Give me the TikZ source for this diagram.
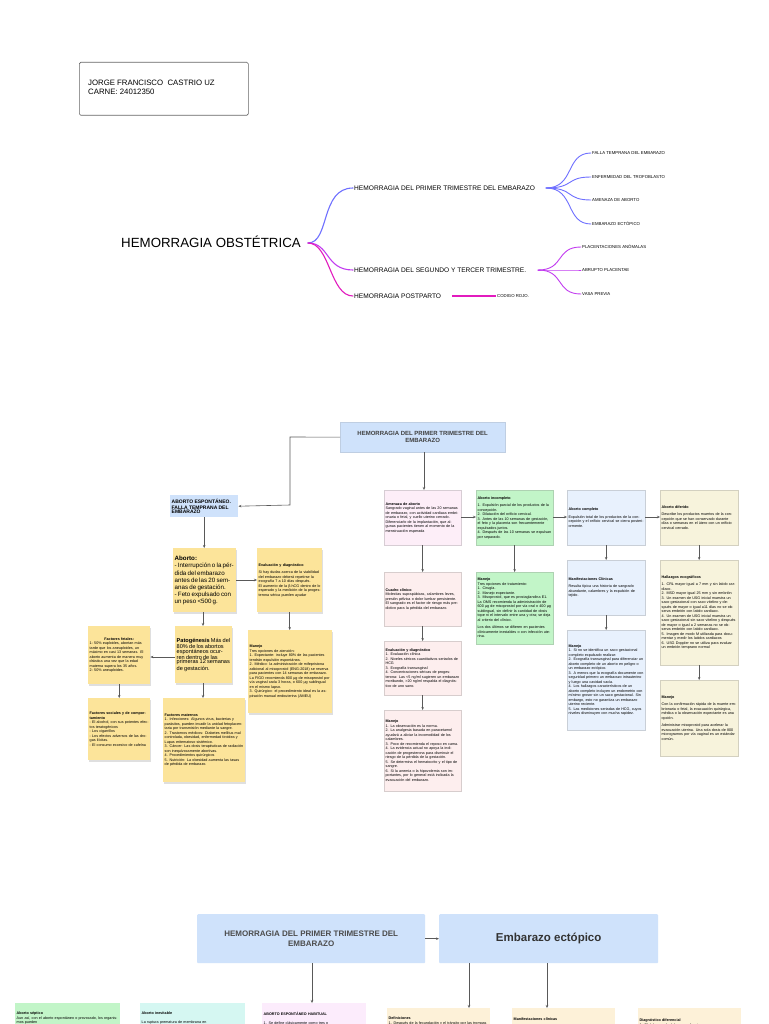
\documentclass[tikz,border=0pt]{standalone}
\usepackage{fontspec}
\setmainfont{Liberation Sans}
\usetikzlibrary{shadows,arrows.meta}
\definecolor{mmblue}{HTML}{6F70FF}
\definecolor{mmviol}{HTML}{C23CF0}
\definecolor{mmmag}{HTML}{E21BBE}
\definecolor{hblue}{HTML}{CFE2FB}
\definecolor{sticky}{HTML}{FCE49A}
\definecolor{cpink}{HTML}{FDEEF8}
\definecolor{crose}{HTML}{FDEEEE}
\definecolor{cgreen}{HTML}{C2F5C8}
\definecolor{clblue}{HTML}{E8F1FD}
\definecolor{ccream}{HTML}{F7F3DC}
\definecolor{ccyan}{HTML}{D5F7F2}
\definecolor{cpk2}{HTML}{FCECFC}
\definecolor{cor}{HTML}{FDF1D8}
\tikzset{
 bxs/.style={anchor=north west,align=left,inner sep=1.5pt,font=\fontsize{3.7}{4.5}\selectfont},
 stk/.style={bxs,fill=sticky,drop shadow={opacity=.25,shadow xshift=1pt,shadow yshift=-2pt}},
 card/.style={bxs,draw=#1!70!gray,line width=.3pt,fill=#1},
 arr/.style={-{Stealth[length=3pt,width=2.5pt]},draw=gray!70!black,line width=.6pt},
 mm/.style={line width=1.1pt,line cap=round},
 lbl/.style={font=\fontsize{4.3}{5}\selectfont,anchor=west,inner sep=1pt},
 mlbl/.style={font=\fontsize{6.6}{7.5}\selectfont,anchor=west,inner sep=1pt},
}
\newcommand\bx[7]{\node[#6,minimum width=#4pt,minimum height=#5pt,text width=#4pt-3pt] (#1) at (#2,#3) {#7};}
\begin{document}
\begin{tikzpicture}[x=1pt,y=-1pt]
\useasboundingbox (0,0) rectangle (768,1024);
\fill[white] (0,0) rectangle (768,1024);
% name box
\node[draw=gray!80!black,rounded corners=1.5pt,line width=.6pt,minimum width=169pt,minimum height=53pt,anchor=north west,inner sep=0] (name) at (79,62) {};
\node[anchor=west,align=left,font=\fontsize{7.8}{8.8}\selectfont,inner sep=0] (namet) at (88,87) {JORGE FRANCISCO\ \ CASTRIO UZ\\CARNE: 24012350};
% mind map
\node[anchor=west,inner sep=0,font=\fontsize{13.3}{15}\selectfont] (root) at (121,242) {HEMORRAGIA OBSTÉTRICA};
\coordinate (o) at (308,243);
\node[mlbl] (p1) at (353,188) {HEMORRAGIA DEL PRIMER TRIMESTRE DEL EMBARAZO};
\node[mlbl] (p2) at (353,270) {HEMORRAGIA DEL SEGUNDO Y TERCER TRIMESTRE.};
\node[mlbl] (p3) at (353,296) {HEMORRAGIA POSTPARTO};
\draw[mm,mmblue] (o) .. controls (330,243) and (320,188) .. (p1.west);
\draw[mm,mmviol] (o) .. controls (330,243) and (325,270) .. (p2.west);
\draw[mm,mmmag] (o) .. controls (330,243) and (330,296) .. (p3.west);
\coordinate (e1) at (546,188);
\coordinate (e2) at (538,270);
\foreach \y/\t [count=\i] in {153/FALLA TEMPRANA DEL EMBARAZO,177/ENFERMEDAD DEL TROFOBLASTO,200/AMENAZA DE ABORTO,224/EMBARAZO ECTÓPICO}{
 \node[lbl] (q\i) at (591,\y) {\t};
 \draw[mm,mmblue,line width=.9pt] (e1) .. controls (575,188) and (565,\y) .. (q\i.west);}
\foreach \y/\t [count=\i] in {247/PLACENTACIONES ANÓMALAS,270/ABRUPTO PLACENTAE,294/VASA PREVIA}{
 \node[lbl] (r\i) at (581,\y) {\t};
 \draw[mm,mmviol,line width=.9pt] (e2) .. controls (565,270) and (555,\y) .. (r\i.west);}
\node[lbl] (cr) at (496,296) {CODIGO ROJO.};
\draw[mmmag,line width=1.6pt] (452,296) -- (cr.west);
% middle section
\node[fill=hblue,draw=hblue!80!gray,line width=.3pt,minimum width=165pt,minimum height=30pt,anchor=north west,inner sep=0] (top) at (340,422) {};
\node[align=center,font=\fontsize{6}{7}\selectfont\bfseries,text=black!75] at (top.center) {HEMORRAGIA DEL PRIMER TRIMESTRE DEL\\EMBARAZO};
\bx{ae}{170}{495}{68}{22}{bxs,fill=hblue}{\fontsize{5}{6}\selectfont\bfseries ABORTO ESPONTÁNEO.\\FALLA TEMPRANA DEL\\EMBARAZO}
\bx{ab}{173}{548}{63}{64}{stk}{\fontsize{6.2}{7.4}\selectfont\textbf{Aborto:}\\- Interrupción o la pérdida del embarazo antes de las 20 semanas de gestación.\\- Feto expulsado con un peso <500 g.}
\bx{ev}{257}{548}{65}{64}{stk}{\textbf{Evaluación y diagnóstico}\\[3pt]Si hay dudas acerca de la viabilidad del embarazo deberá repetirse la ecografía 7 a 10 días después.\\El aumento de la β-hCG dentro de lo esperado y la medición de la progesterona sérica pueden ayudar}
\bx{mj}{248}{630}{84}{83}{stk}{\textbf{Manejo}\\Tres opciones de atención:\\1. Expectante: incluye 80\% de las pacientes tendrán expulsión espontánea.\\2. Médico: la administración de mifepristona adicional al misoprostol (ENG-2018) se reserva para pacientes con 14 semanas de embarazo. La FIGO recomienda 800 µg de misoprostol por vía vaginal cada 3 horas, o 600 µg sublingual en el mismo lapso.\\3. Quirúrgico: el procedimiento ideal es la aspiración manual endouterina (AMEU)}
\bx{pa}{175}{626}{57}{57}{stk}{\fontsize{5.6}{6.8}\selectfont\textbf{Patogénesis} Más del 80\% de los abortos espontáneos ocurren dentro de las primeras 12 semanas de gestación.}
\bx{ff}{88}{626}{62}{58}{stk}{\centering\textbf{Factores fetales:}\par\raggedright 1- 50\% euploides, abortan más tarde que los aneuploides, un máximo en casi 13 semanas. El aborto aumenta de manera muy drástica una vez que la edad materna supera los 35 años.\\2- 50\% aneuploides.}
\bx{fs}{88}{698}{62}{62}{stk}{\textbf{Factores sociales y de comportamiento}\\- El alcohol, con sus potentes efectos teratogénicos\\- Los cigarrillos\\- Los efectos adversos de las drogas ilícitas.\\- El consumo excesivo de cafeína}
\bx{fm}{163}{698}{82}{84}{stk}{\textbf{Factores maternos}\\1. Infecciones: Algunos virus, bacterias y parásitos, pueden invadir la unidad fetoplacentaria por transmisión mediante la sangre.\\2. Trastornos médicos: Diabetes mellitus mal controlada, obesidad, enfermedad tiroidea y Lupus eritematoso sistémico.\\3. Cáncer: Las dosis terapéuticas de radiación son inequívocamente abortivas.\\4. Procedimientos quirúrgicos\\5. Nutrición: La obesidad aumenta las tasas de pérdida de embarazo.}
% right group
\bx{am}{384}{490}{77}{55}{card=cpink}{\textbf{Amenaza de aborto}\\Sangrado vaginal antes de las 20 semanas de embarazo, con actividad cardiaca embrionaria o fetal, y cuello uterino cerrado.\\Diferenciarlo de la implantación, que algunas pacientes tienen al momento de la menstruación esperada}
\bx{ai}{476}{490}{77}{55}{card=cgreen}{\textbf{Aborto incompleto}\\[3pt]1. Expulsión parcial de los productos de la concepción.\\2. Dilatación del orificio cervical.\\3. Antes de las 10 semanas de gestación, el feto y la placenta son frecuentemente expulsados juntos.\\4. Después de las 10 semanas se expulsan por separado.}
\bx{ac}{567}{490}{78}{55}{card=clblue}{\textbf{Aborto completo}\\[3pt]Expulsión total de los productos de la concepción y el orificio cervical se cierra posteriormente.}
\bx{ad}{660}{490}{78}{55}{card=ccream}{\textbf{Aborto diferido}\\[3pt]Describe los productos muertos de la concepción que se han conservado durante días o semanas en el útero con un orificio cervical cerrado.}
\bx{cc}{384}{572}{77}{54}{card=crose}{\textbf{Cuadro clínico}\\Molestias suprapúbicas, calambres leves, presión pélvica o dolor lumbar persistente.\\El sangrado es el factor de riesgo más predictivo para la pérdida del embarazo.}
\bx{ed}{384}{641}{77}{54}{card=crose}{\textbf{Evaluación y diagnóstico}\\1. Evaluación clínica\\2. Niveles séricos cuantitativos seriados de HCG\\3. Ecografía transvaginal\\4. Concentraciones séricas de progesterona: Las <5 ng/ml sugieren un embarazo moribundo, >20 ng/ml respalda el diagnóstico de uno sano.}
\bx{ma}{384}{710}{77}{81}{card=crose}{\textbf{Manejo}\\1. La observación es la norma.\\2. La analgesia basada en paracetamol ayudará a aliviar la incomodidad de los calambres.\\3. Poco de recomienda el reposo en cama.\\4. La evidencia actual no apoya la indicación de progesterona para disminuir el riesgo de la pérdida de la gestación.\\5. Se determina el hematocrito y el tipo de sangre.\\6. Si la anemia o la hipovolemia son importantes, por lo general está indicada la evacuación del embarazo.}
\bx{mi}{476}{572}{77}{72}{card=cgreen}{\textbf{Manejo}\\Tres opciones de tratamiento:\\1. Cirugía.\\2. Manejo expectante.\\3. Misoprostol, que es prostaglandina E1. La OMS recomienda la administración de 600 µg de misoprostol por vía oral o 400 µg sublingual, sin definir la cantidad de dosis tope ni el intervalo entre una y otra; se deja al criterio del clínico.\\[3pt]Los dos últimos se difieren en pacientes clínicamente inestables o con infección uterina.}
\bx{mc}{567}{560}{78}{55}{card=clblue}{\textbf{Manifestaciones Clínicas}\\[3pt]Resulta típica una historia de sangrado abundante, calambres y la expulsión de tejido.}
\bx{mm}{567}{630}{78}{100}{card=clblue}{\textbf{Manejo}\\1. Si no se identifica un saco gestacional completo expulsado realizar:\\2. Ecografía transvaginal para diferenciar un aborto completo de un aborto en peligro o un embarazo ectópico.\\3. A menos que la ecografía documente con seguridad primero un embarazo intrauterino y luego una cavidad vacía.\\4. Los hallazgos característicos de un aborto completo incluyen un endometrio con mínimo grosor sin un saco gestacional. Sin embargo, esto no garantiza un embarazo uterino reciente.\\5. Las mediciones seriadas de HCG, cuyos niveles disminuyen con mucha rapidez.}
\bx{ha}{660}{560}{78}{105}{card=ccream}{\textbf{Hallazgos ecográficos}\\[3pt]1. CRL mayor igual a 7 mm y sin latido cardiaco.\\2. MSD mayor igual 25 mm y sin embrión\\3. Un examen de USG inicial muestra un saco gestacional con saco vitelino y después de mayor o igual a11 días no se observa embrión con latido cardiaco.\\4. Un examen de USG inicial muestra un saco gestacional sin saco vitelino y después de mayor o igual a 2 semanas no se observa embrión con latido cardiaco.\\5. Imagen de modo M utilizada para documentar y medir los latidos cardiacos\\6. USG Doppler no se utiliza para evaluar un embrión temprano normal}
\bx{md}{660}{680}{78}{76}{card=ccream}{\textbf{Manejo}\\[3pt]Con la confirmación rápida de la muerte embrionaria o fetal, la evacuación quirúrgica, médica o la observación expectante es una opción.\\[3pt]Administrar misoprostol para acelerar la evacuación uterina. Una sola dosis de 800 microgramos por vía vaginal es un estándar común.}
% arrows middle
\draw[arr] (top.west) -- (290,437) -- (290,505) -- (ae.east);
\draw[arr] (424,452) -- (am.north -| 424,0);
\draw[arr] (ae.south) -- (ab.north -| ae.south);
\draw[arr] (ab.east |- 0,580) -- (ev.west |- 0,580);
\draw[arr] (ev.south) -- (mj.north -| ev.south);
\draw[arr] (203,612) -- (pa.north -| 203,0);
\draw[arr] (pa.west |- 0,657) -- (ff.east |- 0,657);
\draw[arr] (ff.south) -- (fs.north);
\draw[arr] (203,683) -- (fm.north -| 203,0);
\draw[arr] (am.east |- 0,517) -- (ai.west |- 0,517);
\draw[arr] (ai.east |- 0,517) -- (ac.west |- 0,517);
\draw[arr] (ac.east |- 0,517) -- (ad.west |- 0,517);
\draw[arr] (am.south) -- (cc.north);
\draw[arr] (cc.south) -- (ed.north);
\draw[arr] (ed.south) -- (ma.north);
\draw[arr] (ai.south) -- (mi.north);
\draw[arr] (ac.south) -- (mc.north);
\draw[arr] (mc.south) -- (mm.north);
\draw[arr] (ad.south) -- (ha.north);
\draw[arr] (ha.south) -- (md.north);
% bottom
\node[fill=hblue,rounded corners=1pt,minimum width=228pt,minimum height=49pt,anchor=north west,inner sep=0] (bt) at (197,914) {};
\node[align=center,font=\fontsize{8}{10}\selectfont\bfseries,text=black!70] at (bt.center) {HEMORRAGIA DEL PRIMER TRIMESTRE DEL\\EMBARAZO};
\node[fill=hblue,rounded corners=1pt,minimum width=219pt,minimum height=49pt,anchor=north west,inner sep=0,font=\fontsize{11.5}{13}\selectfont\bfseries,text=black!80] (ee) at (439,914) {Embarazo ectópico};
\bx{s1}{15}{1003}{105}{30}{bxs,fill=cgreen}{\textbf{Aborto séptico}\\Aun así, con el aborto espontáneo o provocado, los organismos pueden}
\bx{s2}{140}{1003}{105}{30}{bxs,fill=ccyan}{\textbf{Aborto inevitable}\\[4pt]La ruptura prematura de membrana en}
\bx{s3}{262}{1003}{104}{30}{bxs,fill=cpk2}{\textbf{ABORTO ESPONTÁNEO HABITUAL}\\[4pt]1. Se define clásicamente como tres o}
\bx{s4}{387}{1008}{103}{30}{bxs,fill=cor}{\textbf{Definiciones}\\1. Después de la fecundación y el tránsito por las trompas de Falopio, el}
\bx{s5}{512}{1008}{103}{30}{bxs,fill=cor}{\textbf{Manifestaciones clínicas}\\[4pt]1. La tríada clásica es la menstruación}
\bx{s6}{638}{1008}{103}{30}{bxs,fill=cor}{\textbf{Diagnóstico diferencial}\\1. El dolor puede deberse a afecciones}
\draw[arr] (bt.east) -- (ee.west);
\draw[arr] (312,963) -- (s3.north -| 312,0);
\draw[arr] (469,963) -- (s4.north -| 469,0);
\draw[arr] (547,963) -- (s5.north -| 547,0);
\end{tikzpicture}
\end{document}
